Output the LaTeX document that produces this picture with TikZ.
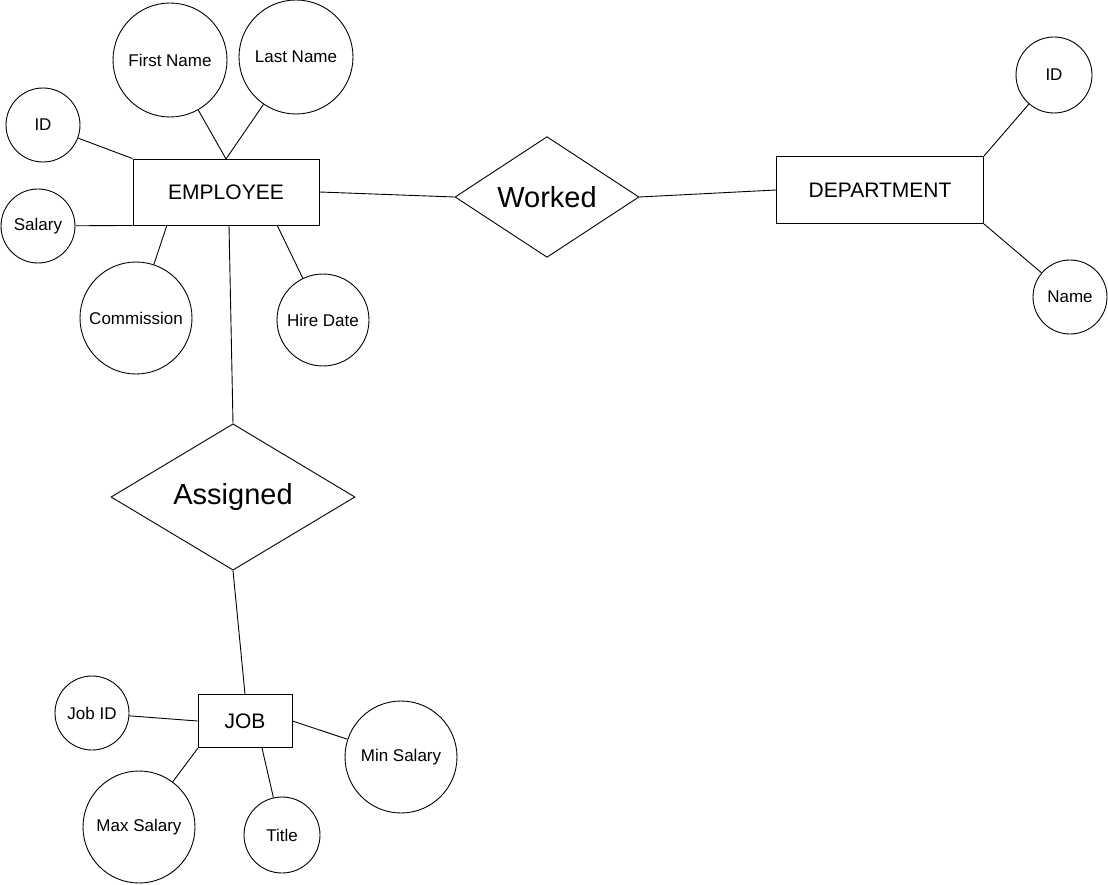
\documentclass[tikz,border=0pt]{standalone}
\usepackage{fontspec}
\setmainfont{Liberation Sans}
\usetikzlibrary{shapes.geometric}

\tikzset{
  entity/.style={draw, rectangle, inner sep=0pt, font=\fontsize{21}{24}\selectfont},
  attr/.style={draw, circle, inner sep=0pt, font=\fontsize{17}{20}\selectfont},
  rel/.style={draw, diamond, inner sep=0pt, font=\fontsize{29}{32}\selectfont},
}

\begin{document}
\begin{tikzpicture}[x=1pt, y=-1pt, line width=0.9pt]
    \useasboundingbox (0,0) rectangle (1108,885);

    % entities
    \node [entity, minimum width=186pt, minimum height=66pt] (emp) at (226,192) {EMPLOYEE};
    \node [entity, minimum width=207pt, minimum height=67pt] (dept) at (880,190) {DEPARTMENT};
    \node [entity, minimum width=94pt, minimum height=53pt] (job) at (245,721) {JOB};

    % relationships
    \node [rel, minimum width=184pt, minimum height=112pt] (worked) at (547,197) {Worked};
    \node [rel, minimum width=244pt, minimum height=130pt] (assigned) at (233,497) {Assigned};

    % employee attributes
    \node [attr, minimum size=114pt] (fname) at (170,60) {First Name};
    \node [attr, minimum size=114pt] (lname) at (296,57) {Last Name};
    \node [attr, minimum size=74pt] (eid) at (43,125) {ID};
    \node [attr, minimum size=74pt] (salary) at (38,226) {Salary};
    \node [attr, minimum size=112pt] (comm) at (136,318) {Commission};
    \node [attr, minimum size=92pt] (hire) at (323,320) {Hire Date};

    % department attributes
    \node [attr, minimum size=76pt] (did) at (1054,75) {ID};
    \node [attr, minimum size=74pt] (dname) at (1070,297) {Name};

    % job attributes
    \node [attr, minimum size=74pt] (jid) at (92,713) {Job ID};
    \node [attr, minimum size=112pt] (minsal) at (401,757) {Min Salary};
    \node [attr, minimum size=112pt] (maxsal) at (139,827) {Max Salary};
    \node [attr, minimum size=76pt] (title) at (282,835) {Title};

    \coordinate (empT) at (226,159);
    \coordinate (empC) at (167,225);
    \coordinate (empH) at (277,225);
    \coordinate (empB) at (229,225);
    \coordinate (jobM) at (198,748);
    \coordinate (jobT) at (262,748);

    \draw (fname) -- (empT);
    \draw (lname) -- (empT);
    \draw (eid) -- (emp.north west);
    \draw (salary) -- (emp.south west);
    \draw (comm) -- (empC);
    \draw (hire) -- (empH);
    \draw (emp.east) -- (worked.west);
    \draw (worked.east) -- (dept.west);
    \draw (did) -- (dept.north east);
    \draw (dname) -- (dept.south east);
    \draw (empB) -- (assigned.north);
    \draw (assigned.south) -- (job.north);
    \draw (jid) -- (job.west);
    \draw (minsal) -- (job.east);
    \draw (maxsal) -- (jobM);
    \draw (title) -- (jobT);
\end{tikzpicture}
\end{document}
